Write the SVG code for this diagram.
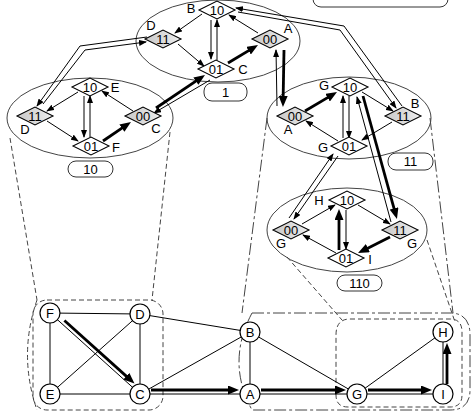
<svg xmlns="http://www.w3.org/2000/svg" width="474" height="414" viewBox="0 0 474 414">
<defs>
<linearGradient id="g" x1="0" y1="0" x2="1" y2="0"><stop offset="0" stop-color="#c8c8c8"/><stop offset="1" stop-color="#ededed"/></linearGradient>
<marker id="a" markerUnits="userSpaceOnUse" markerWidth="8" markerHeight="6" refX="7" refY="3" orient="auto"><path d="M0,0 L8,3 L0,6 z" fill="#000"/></marker>
<marker id="A" markerUnits="userSpaceOnUse" markerWidth="12" markerHeight="9" refX="4" refY="4.5" orient="auto"><path d="M0,0 L11,4.5 L0,9 z" fill="#000"/></marker>
<polygon id="dm" points="-18,0 0,-9 18,0 0,9"/>
</defs>
<style>
.el{fill:none;stroke:#444;stroke-width:1}
.d{fill:#fff;stroke:#000;stroke-width:1.1}
.s{fill:url(#g);stroke:#000;stroke-width:1.1}
.t{font-family:"Liberation Sans",Arial,sans-serif;font-size:13px;text-anchor:middle;fill:#000}
.l{font-family:"Liberation Sans",Arial,sans-serif;font-size:13px;text-anchor:middle;fill:#000}
.th{stroke:#000;stroke-width:1;fill:none;marker-end:url(#a)}
.tk{stroke:#000;stroke-width:2.8;fill:none;marker-end:url(#A)}
.ln{stroke:#000;stroke-width:1;fill:none}
.box{fill:#fff;stroke:#333;stroke-width:1}
.ds{fill:none;stroke:#444;stroke-width:1;stroke-dasharray:5 3}
.dd{fill:none;stroke:#444;stroke-width:1;stroke-dasharray:12 3 3 3}
.c{fill:#fff;stroke:#000;stroke-width:1.2}
</style>

<!-- top-right cut label box -->
<rect class="box" x="313" y="-12" width="135" height="19" rx="8"/>

<!-- ellipses -->
<g id="clusters">
<ellipse class="el" cx="218" cy="41" rx="82" ry="41"/>
<ellipse class="el" cx="90" cy="118" rx="83" ry="40"/>
<ellipse class="el" cx="349" cy="118" rx="82" ry="41"/>
<ellipse class="el" cx="347" cy="230" rx="80" ry="42"/>
</g>

<!-- projection / cluster outlines -->
<g id="projections">
<path class="ds" d="M10,138 L37,300"/>
<path class="ds" d="M170,132 L152,300"/>
<rect class="ds" x="33" y="300" width="130" height="110" rx="14"/>
<path class="ds" d="M37,300 Q18,355 37,410"/>
<path class="dd" d="M267,118 L242,313"/>
<path class="dd" d="M430,118 L453,313"/>
<path class="dd" d="M252,313 H450 Q470,313 470,335 V390 Q470,410 450,410 H252 Q226,362 252,313 Z"/>
<path class="ds" d="M287,257 L342,320"/>
<path class="ds" d="M427,240 L455,322"/>
<path class="ds" d="M350,319 H450 Q462,319 462,332 V395 Q462,407 450,407 H348 Q336,407 336,395 V335 Q336,319 350,319 Z"/>
</g>

<!-- connectors -->
<g id="connectors">
<!-- top ellipse -->
<line class="th" x1="202" y1="14" x2="175" y2="33"/>
<line class="th" x1="178" y1="44" x2="204" y2="66"/>
<line class="th" x1="258" y1="33" x2="229" y2="15"/>
<line class="th" x1="211" y1="20" x2="211" y2="59"/>
<line class="th" x1="217" y1="60" x2="217" y2="20"/>
<line class="tk" x1="228" y1="63" x2="252" y2="48.6"/>
<!-- left ellipse -->
<line class="th" x1="78" y1="92" x2="47" y2="111"/>
<line class="th" x1="47" y1="121" x2="78" y2="141"/>
<line class="th" x1="133" y1="111" x2="102" y2="91"/>
<line class="th" x1="84" y1="96" x2="84" y2="137"/>
<line class="th" x1="90" y1="137" x2="90" y2="96"/>
<line class="tk" x1="103" y1="141" x2="125.2" y2="125.9"/>
<!-- right ellipse -->
<line class="tk" x1="305" y1="111" x2="331" y2="95.6"/>
<line class="th" x1="362" y1="92" x2="393" y2="111"/>
<line class="th" x1="392" y1="122" x2="362" y2="140"/>
<line class="th" x1="338" y1="141" x2="306" y2="121"/>
<line class="th" x1="343" y1="138" x2="343" y2="96"/>
<line class="th" x1="349" y1="96" x2="349" y2="138"/>
<!-- lower right ellipse -->
<line class="th" x1="302" y1="224" x2="335" y2="205"/>
<line class="th" x1="358" y1="205" x2="390" y2="224"/>
<line class="th" x1="336" y1="253" x2="303" y2="235"/>
<line class="tk" x1="390" y1="237" x2="364.3" y2="249.9"/>
<line class="tk" x1="339" y1="250" x2="339" y2="216"/>
<line class="th" x1="346" y1="210" x2="346" y2="249"/>
<!-- between ellipses -->
<polyline class="th" points="147,37 80,46 37,106"/>
<polyline class="th" points="43,104 85,50 146,42"/>
<line class="tk" x1="156" y1="108" x2="199.2" y2="78.9"/>
<line class="th" x1="210" y1="80" x2="154" y2="113"/>
<line class="tk" x1="284" y1="50" x2="283.1" y2="100"/>
<line class="th" x1="277" y1="106" x2="276" y2="50"/>
<polyline class="th" points="402,106 344,26 236,8"/>
<polyline class="th" points="238,12 340,30 396,108"/>
<line class="tk" x1="363" y1="96" x2="395.1" y2="212.3"/>
<line class="th" x1="391" y1="222" x2="357" y2="97"/>
<line class="th" x1="338" y1="156" x2="294" y2="219"/>
<line class="th" x1="289" y1="218" x2="333" y2="154"/>
<!-- bottom graph -->
<line class="ln" x1="50" y1="313" x2="140" y2="314"/>
<line class="ln" x1="50" y1="313" x2="50" y2="394"/>
<line class="ln" x1="140" y1="314" x2="50" y2="394"/>
<line class="ln" x1="140" y1="314" x2="140" y2="394"/>
<line class="ln" x1="50" y1="394" x2="140" y2="394"/>
<line class="ln" x1="50" y1="313" x2="140" y2="394"/>
<line class="tk" x1="64.4" y1="320.5" x2="129.3" y2="378.9"/>
<line class="ln" x1="140" y1="314" x2="250" y2="332"/>
<line class="ln" x1="140" y1="394" x2="250" y2="332"/>
<line class="ln" x1="140" y1="394" x2="250" y2="394"/>
<line class="tk" x1="151" y1="390" x2="232" y2="390"/>
<line class="ln" x1="250" y1="332" x2="250" y2="394"/>
<line class="ln" x1="250" y1="332" x2="357" y2="394"/>
<line class="ln" x1="250" y1="394" x2="357" y2="394"/>
<line class="tk" x1="261" y1="390" x2="339" y2="390"/>
<line class="ln" x1="357" y1="394" x2="443" y2="394"/>
<line class="tk" x1="368" y1="390" x2="425" y2="390"/>
<line class="ln" x1="357" y1="394" x2="443" y2="332"/>
<line class="ln" x1="443" y1="394" x2="443" y2="332"/>
<line class="tk" x1="447" y1="384" x2="447" y2="350"/>
</g>

<!-- top ellipse nodes -->
<g id="n1-B"><use href="#dm" class="d" x="217" y="10"/><text class="t" x="217" y="14.5">10</text><text class="l" x="191" y="13">B</text></g>
<g id="n1-D"><use href="#dm" class="s" x="163" y="39"/><text class="t" x="163" y="43.5">11</text><text class="l" x="151" y="30">D</text></g>
<g id="n1-A"><use href="#dm" class="s" x="270" y="39"/><text class="t" x="270" y="43.5">00</text><text class="l" x="288" y="33">A</text></g>
<g id="n1-C"><use href="#dm" class="d" x="216" y="69"/><text class="t" x="216" y="73.5">01</text><text class="l" x="243" y="74">C</text></g>
<g id="lbl1"><rect class="box" x="204" y="83" width="43" height="18" rx="8"/><text class="t" x="225.5" y="96.5">1</text></g>

<!-- left ellipse nodes -->
<g id="n10-E"><use href="#dm" class="d" x="90" y="87"/><text class="t" x="90" y="91.5">10</text><text class="l" x="115" y="91.5">E</text></g>
<g id="n10-D"><use href="#dm" class="s" x="35" y="116"/><text class="t" x="35" y="120.5">11</text><text class="l" x="25" y="134">D</text></g>
<g id="n10-C"><use href="#dm" class="s" x="143" y="116"/><text class="t" x="143" y="120.5">00</text><text class="l" x="156" y="133">C</text></g>
<g id="n10-F"><use href="#dm" class="d" x="91" y="146"/><text class="t" x="91" y="150.5">01</text><text class="l" x="116" y="151.5">F</text></g>
<g id="lbl10"><rect class="box" x="68" y="161" width="45" height="16" rx="8"/><text class="t" x="90.5" y="173.5">10</text></g>

<!-- right ellipse nodes -->
<g id="n11-G1"><use href="#dm" class="d" x="350" y="87"/><text class="t" x="350" y="91.5">10</text><text class="l" x="324" y="90">G</text></g>
<g id="n11-A"><use href="#dm" class="s" x="295" y="116"/><text class="t" x="295" y="120.5">00</text><text class="l" x="288" y="134">A</text></g>
<g id="n11-B"><use href="#dm" class="s" x="403" y="116"/><text class="t" x="403" y="120.5">11</text><text class="l" x="415" y="107.5">B</text></g>
<g id="n11-G0"><use href="#dm" class="d" x="349" y="146"/><text class="t" x="349" y="150.5">01</text><text class="l" x="323" y="151.5">G</text></g>
<g id="lbl11"><rect class="box" x="388" y="153" width="45" height="17" rx="8"/><text class="t" x="410.5" y="166">11</text></g>

<!-- lower right ellipse nodes -->
<g id="n110-H"><use href="#dm" class="d" x="347" y="200"/><text class="t" x="347" y="204.5">10</text><text class="l" x="319" y="204.5">H</text></g>
<g id="n110-G0"><use href="#dm" class="s" x="291" y="230"/><text class="t" x="291" y="234.5">00</text><text class="l" x="281" y="247.5">G</text></g>
<g id="n110-G1"><use href="#dm" class="s" x="400" y="230"/><text class="t" x="400" y="234.5">11</text><text class="l" x="412" y="247.5">G</text></g>
<g id="n110-I"><use href="#dm" class="d" x="346" y="258"/><text class="t" x="346" y="262.5">01</text><text class="l" x="370" y="263.5">I</text></g>
<g id="lbl110"><rect class="box" x="337" y="275" width="45" height="16" rx="8"/><text class="t" x="359.5" y="287.5">110</text></g>

<!-- bottom graph nodes -->
<g id="F"><circle class="c" cx="50" cy="313" r="10"/><text class="l" x="50" y="317.5">F</text></g>
<g id="D"><circle class="c" cx="140" cy="314" r="10"/><text class="l" x="140" y="318.5">D</text></g>
<g id="E"><circle class="c" cx="50" cy="394" r="10"/><text class="l" x="50" y="398.5">E</text></g>
<g id="C"><circle class="c" cx="140" cy="394" r="10"/><text class="l" x="140" y="398.5">C</text></g>
<g id="B"><circle class="c" cx="250" cy="332" r="10"/><text class="l" x="250" y="336.5">B</text></g>
<g id="A"><circle class="c" cx="250" cy="394" r="10"/><text class="l" x="250" y="398.5">A</text></g>
<g id="G"><circle class="c" cx="357" cy="394" r="10"/><text class="l" x="357" y="398.5">G</text></g>
<g id="H"><circle class="c" cx="443" cy="332" r="10"/><text class="l" x="443" y="336.5">H</text></g>
<g id="I"><circle class="c" cx="443" cy="394" r="10"/><text class="l" x="443" y="398.5">I</text></g>
</svg>
